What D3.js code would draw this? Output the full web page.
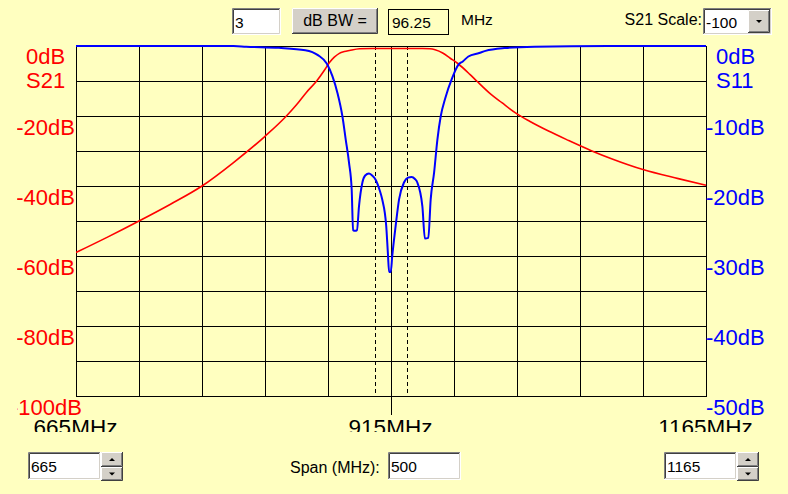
<!DOCTYPE html>
<html lang="en">
<head>
<meta charset="UTF-8" />
<title>S21 / S11 filter response</title>
<script src="https://cdn.jsdelivr.net/npm/d3@7"></script>
<style>
  body { margin: 0; background: #ffffc0; }
  svg text { font-family: Arial, "Liberation Sans", sans-serif; }
</style>
</head>
<body>
<div id="chart"></div>
<script>
// grid and tick values
const freqGrid = [665, 715, 765, 815, 865, 915, 965, 1015, 1065, 1115, 1165];
const freqLabels = [665, 915, 1165];
const bandEdges = [902, 928];
const s21Grid = [0, -10, -20, -30, -40, -50, -60, -70, -80, -90, -100];
const s21Labels = [-20, -40, -60, -80, -100];
const s11Labels = [-10, -20, -30, -40, -50];

// S21 (transmission), dB vs MHz
const s21Freq = [665, 690, 715, 740, 765, 790, 815, 832, 840, 848, 856, 862, 866, 870, 874, 878, 882, 890,
  900, 915, 930, 940, 946, 950, 956, 962, 968, 977.6, 983, 993, 1003, 1015, 1025, 1040, 1056, 1074, 1090, 1115, 1143, 1165];
const s21dB = [-59, -54.6, -50, -45.2, -40, -33.3, -25.8, -20, -16.8, -13.2, -10, -7, -4.8, -3.2, -2.1, -1.6, -1.3, -0.8,
  -0.7, -0.7, -0.7, -0.7, -0.8, -1.1, -2.0, -3.5, -5.0, -8.1, -10, -13.4, -16.2, -19.4, -21.5, -24.3, -27, -29.9, -32.2, -35.3, -37.9, -39.8];

// S11 (reflection), dB vs MHz
const s11Freq = [665, 790, 800, 826, 847, 857, 864, 868.5, 872.5, 876.4, 879.1, 881.7, 883.8, 884.9, 886.5, 888, 889.6,
  892.3, 894.5, 897.5, 900, 902.8, 906, 908, 911.2, 912.5, 913.5, 914.8, 916, 918.7, 921.4, 925.3, 928.5, 931.4, 934,
  935.9, 939.9, 941.9, 944.6, 946.5, 949.2, 951.8, 954.5, 958, 963.5, 968.4, 972, 976.4, 985, 990, 1005, 1029, 1087, 1165];
const s11dB = [0, 0, -0.1, -0.26, -0.6, -1.3, -2.5, -4.3, -6.7, -10, -13.4, -16.7, -20.5, -26.3, -26.4, -26.3, -22.9,
  -19.5, -18.5, -18.2, -18.5, -19.1, -20.6, -21.9, -25.7, -29.5, -32.3, -32.3, -30, -25.7, -21.9, -19.5, -18.8, -18.7, -19.0,
  -19.5, -22.9, -27.5, -27.4, -21.9, -18.1, -13.4, -10, -7.5, -4.6, -2.7, -2.2, -1.5, -1.0, -0.7, -0.3, -0.1, 0, 0];

const bg = "#ffffc0";
const W = 788, H = 494;
const plot = { left: 76, top: 46, width: 630, height: 350 };

const svg = d3.select("#chart").append("svg")
  .attr("width", W).attr("height", H);

svg.append("rect").attr("width", W).attr("height", H).attr("fill", bg);

const x = d3.scaleLinear().domain([665, 1165]).range([plot.left, plot.left + plot.width]);
const yL = d3.scaleLinear().domain([0, -100]).range([plot.top, plot.top + plot.height]);
const yR = d3.scaleLinear().domain([0, -50]).range([plot.top, plot.top + plot.height]);

// grid through the axes
svg.append("g")
  .attr("transform", `translate(0,${plot.top})`)
  .call(d3.axisBottom(x).tickValues(freqGrid).tickSize(plot.height).tickFormat(""))
  .call(g => g.select(".domain").remove())
  .call(g => g.selectAll("line").attr("stroke", "#000"));

svg.append("g")
  .attr("transform", `translate(${plot.left},0)`)
  .call(d3.axisRight(yL).tickValues(s21Grid).tickSize(plot.width).tickFormat(""))
  .call(g => g.select(".domain").remove())
  .call(g => g.selectAll("line").attr("stroke", "#000"));

// frame
svg.append("rect")
  .attr("x", plot.left + 0.5).attr("y", plot.top + 0.5)
  .attr("width", plot.width).attr("height", plot.height)
  .attr("fill", "none").attr("stroke", "#000");

// centre tick below the plot
svg.append("line")
  .attr("x1", x(915) + 0.5).attr("x2", x(915) + 0.5)
  .attr("y1", plot.top + plot.height).attr("y2", plot.top + plot.height + 19)
  .attr("stroke", "#000");

// band edge markers
svg.selectAll(".edge").data(bandEdges).join("line")
  .attr("class", "edge")
  .attr("x1", d => Math.round(x(d)) + 0.5).attr("x2", d => Math.round(x(d)) + 0.5)
  .attr("y1", plot.top).attr("y2", plot.top + plot.height)
  .attr("stroke", "#000").attr("stroke-dasharray", "4,3");

// curves
svg.append("clipPath").attr("id", "plotclip").append("rect")
  .attr("x", plot.left).attr("y", plot.top - 1)
  .attr("width", plot.width + 1).attr("height", plot.height + 2);

const s21Line = d3.line().x((d, i) => x(s21Freq[i])).y(d => yL(d)).curve(d3.curveMonotoneX);
const s11Line = d3.line().x((d, i) => x(s11Freq[i])).y(d => yR(d)).curve(d3.curveMonotoneX);

svg.append("path").datum(s21dB)
  .attr("clip-path", "url(#plotclip)")
  .attr("d", s21Line).attr("fill", "none").attr("stroke", "#ff0000").attr("stroke-width", 1.6);

svg.append("path").datum(s11dB)
  .attr("clip-path", "url(#plotclip)")
  .attr("d", s11Line).attr("fill", "none").attr("stroke", "#0000ff").attr("stroke-width", 2);

// axis labels
const big = 22;
svg.append("clipPath").attr("id", "leftclip").append("rect")
  .attr("x", 17).attr("y", 0).attr("width", W).attr("height", H);

svg.append("g").attr("clip-path", "url(#leftclip)")
  .selectAll("text").data(s21Labels).join("text")
  .attr("x", d => d === -100 ? 82 : 75)
  .attr("y", d => yL(d) + 19)
  .attr("text-anchor", "end")
  .attr("fill", "#ff0000").attr("font-size", big)
  .text(d => d + "dB");

svg.selectAll(".r11").data(s11Labels).join("text")
  .attr("class", "r11")
  .attr("x", plot.left + plot.width)
  .attr("y", d => yR(d) + 19)
  .attr("fill", "#0000ff").attr("font-size", big)
  .text(d => d + "dB");

[["0dB", 64], ["S21", 88]].forEach(([t, y]) =>
  svg.append("text").attr("x", 26).attr("y", y).attr("fill", "#ff0000").attr("font-size", big).text(t));
[["0dB", 64], ["S11", 88]].forEach(([t, y]) =>
  svg.append("text").attr("x", 716).attr("y", y).attr("fill", "#0000ff").attr("font-size", big).text(t));

svg.append("clipPath").attr("id", "bottomclip").append("rect")
  .attr("x", 0).attr("y", 0).attr("width", W).attr("height", 432);

svg.append("g").attr("clip-path", "url(#bottomclip)")
  .selectAll("text").data(freqLabels).join("text")
  .attr("x", d => x(d) - 0.5)
  .attr("y", 435)
  .attr("text-anchor", "middle")
  .attr("fill", "#000").attr("font-size", 22.5)
  .text(d => d + "MHz");

// windows style controls
const face = "#d4d0c8";
function sunken(x0, y0, w, h, fill) {
  const g = svg.append("g");
  g.append("rect").attr("x", x0).attr("y", y0).attr("width", w).attr("height", h).attr("fill", fill);
  g.append("path").attr("d", `M${x0 + 0.5},${y0 + h}V${y0 + 0.5}H${x0 + w}`).attr("stroke", "#808080").attr("fill", "none");
  g.append("path").attr("d", `M${x0 + 1.5},${y0 + h - 1}V${y0 + 1.5}H${x0 + w - 1}`).attr("stroke", "#404040").attr("fill", "none");
  g.append("path").attr("d", `M${x0},${y0 + h - 0.5}H${x0 + w - 0.5}V${y0}`).attr("stroke", "#ffffff").attr("fill", "none");
  g.append("path").attr("d", `M${x0 + 1},${y0 + h - 1.5}H${x0 + w - 1.5}V${y0 + 1}`).attr("stroke", face).attr("fill", "none");
  return g;
}
function raised(x0, y0, w, h) {
  const g = svg.append("g");
  g.append("rect").attr("x", x0).attr("y", y0).attr("width", w).attr("height", h).attr("fill", face);
  g.append("path").attr("d", `M${x0 + 0.5},${y0 + h}V${y0 + 0.5}H${x0 + w}`).attr("stroke", "#ffffff").attr("fill", "none");
  g.append("path").attr("d", `M${x0},${y0 + h - 0.5}H${x0 + w - 0.5}V${y0}`).attr("stroke", "#404040").attr("fill", "none");
  g.append("path").attr("d", `M${x0 + 1},${y0 + h - 1.5}H${x0 + w - 1.5}V${y0 + 1}`).attr("stroke", "#808080").attr("fill", "none");
  return g;
}
function label(x0, y0, t, size, anchor) {
  svg.append("text").attr("x", x0).attr("y", y0).attr("font-size", size || 15.5)
    .attr("text-anchor", anchor || "start").attr("fill", "#000").text(t);
}
function arrow(cx, cy, up) {
  const s = up ? -1 : 1;
  svg.append("path").attr("d", `M${cx - 3},${cy - s * 1.5}L${cx + 3},${cy - s * 1.5}L${cx},${cy + s * 1.5}Z`).attr("fill", "#000");
}

// top row
sunken(232, 8, 49, 27, "#fff");
label(235, 28, "3");
raised(292, 8, 86, 26);
label(335, 26, "dB BW =", 16, "middle");
svg.append("rect").attr("x", 388.5).attr("y", 9.5).attr("width", 60).attr("height", 25)
  .attr("fill", bg).attr("stroke", "#000");
label(392, 28, "96.25");
label(461, 25, "MHz");
label(702, 25, "S21 Scale:", 16, "end");
sunken(703, 8, 69, 27, "#fff");
label(706, 28, "-100");
raised(748, 10, 22, 23);
arrow(759, 21.5, false);

// bottom row
sunken(28, 452, 73, 28, "#fff");
label(31, 472, "665");
raised(101, 452, 22, 15); arrow(112, 459.5, true);
raised(101, 467, 22, 14); arrow(112, 474, false);
label(290, 473, "Span (MHz):", 16);
sunken(388, 452, 73, 28, "#fff");
label(391, 472, "500");
sunken(664, 452, 73, 28, "#fff");
label(667, 472, "1165");
raised(737, 452, 22, 15); arrow(748, 459.5, true);
raised(737, 467, 22, 14); arrow(748, 474, false);
</script>
</body>
</html>
